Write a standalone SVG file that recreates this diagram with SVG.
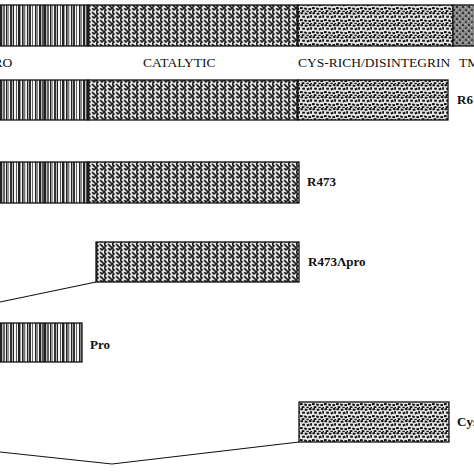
<svg xmlns="http://www.w3.org/2000/svg" width="474" height="474" viewBox="0 0 474 474">
<defs>
<pattern id="pro" patternUnits="userSpaceOnUse" x="0" y="0" width="44" height="10">
<rect width="44" height="10" fill="#f4f4f4"/>
<rect x="0" width="2" height="10" fill="#222"/>
<rect x="2" width="1" height="10" fill="#bbb"/>
<rect x="3" width="2" height="10" fill="#666"/>
<rect x="6" width="1" height="10" fill="#222"/>
<rect x="7" width="2" height="10" fill="#999"/>
<rect x="10" width="2" height="10" fill="#333"/>
<rect x="12" width="1" height="10" fill="#bbb"/>
<rect x="13" width="1" height="10" fill="#222"/>
<rect x="16" width="1" height="10" fill="#555"/>
<rect x="18" width="2" height="10" fill="#222"/>
<rect x="20" width="1" height="10" fill="#999"/>
<rect x="22" width="1" height="10" fill="#222"/>
<rect x="23" width="2" height="10" fill="#777"/>
<rect x="25" width="1" height="10" fill="#ccc"/>
<rect x="27" width="1" height="10" fill="#222"/>
<rect x="28" width="1" height="10" fill="#aaa"/>
<rect x="29" width="2" height="10" fill="#333"/>
<rect x="32" width="1" height="10" fill="#666"/>
<rect x="35" width="1" height="10" fill="#222"/>
<rect x="36" width="2" height="10" fill="#888"/>
<rect x="39" width="2" height="10" fill="#222"/>
<rect x="41" width="1" height="10" fill="#bbb"/>
<rect x="42" width="2" height="10" fill="#555"/>
</pattern>
<pattern id="cat" patternUnits="userSpaceOnUse" x="0" y="0" width="8" height="8">
<rect width="8" height="8" fill="#e6e6e6"/>
<path d="M0 4 L4 0 M4 4 L8 8 M4 0 L8 4 M0 4 L4 8" stroke="#151515" stroke-width="1.6" fill="none" stroke-dasharray="3.4 2.2"/>
<path d="M0 0 L2 2 M6 6 L8 8 M6 2 L8 0 M0 8 L2 6" stroke="#222" stroke-width="1.6" fill="none"/>
</pattern>
<pattern id="cys" patternUnits="userSpaceOnUse" x="0" y="0" width="12" height="12">
<rect width="12" height="12" fill="#e4e4e4"/>
<g fill="#111">
<rect x="0.4" y="0.2" width="2.7" height="2" transform="rotate(-20 1.7 1.2)"/>
<rect x="4.7" y="0.7" width="2.7" height="2"/>
<rect x="8.9" y="0" width="2.7" height="2" transform="rotate(20 10.2 0.9)"/>
<rect x="2.2" y="3.7" width="2.7" height="2"/>
<rect x="6.7" y="4.1" width="2.7" height="2" transform="rotate(-25 8 5.1)"/>
<rect x="10.2" y="3.2" width="1.8" height="2.5"/>
<rect x="0" y="7.1" width="2.7" height="2"/>
<rect x="4.2" y="7.7" width="2.7" height="2" transform="rotate(25 5.5 8.7)"/>
<rect x="8.4" y="8.1" width="2.7" height="2"/>
<rect x="1.7" y="10.2" width="2.7" height="1.8"/>
<rect x="6.4" y="10.8" width="2.4" height="1.2"/>
<rect x="10.4" y="11" width="1.6" height="1"/>
</g>
</pattern>
<pattern id="tm" patternUnits="userSpaceOnUse" x="0" y="0" width="6" height="6">
<rect width="6" height="6" fill="#888"/>
<rect x="0" y="0" width="2" height="2" fill="#333"/>
<rect x="3" y="3" width="2" height="2" fill="#444"/>
<rect x="3" y="0" width="1" height="1" fill="#ccc"/>
<rect x="0" y="3" width="1" height="1" fill="#bbb"/>
</pattern>
<style>
.seg{stroke:#111;stroke-width:1.3}
.pro{fill:url(#pro)}
.cat{fill:url(#cat)}
.cys{fill:url(#cys)}
.tm{fill:url(#tm)}
.hdr{font-family:"Liberation Serif","Times New Roman",serif;font-size:13.5px;fill:#111}
.lbl{font-family:"Liberation Serif","Times New Roman",serif;font-size:13px;font-weight:bold;fill:#111}
.conn{stroke:#111;stroke-width:1.2;fill:none}
</style>
</defs>
<rect width="474" height="474" fill="#fff"/>
<g id="full-length">
<rect class="seg pro" x="-1" y="5" width="89" height="41"/>
<rect class="seg cat" x="88" y="5" width="210" height="41"/>
<rect class="seg cys" x="298" y="5" width="155" height="41"/>
<rect class="seg tm" x="453" y="5" width="23" height="41"/>
</g>
<g id="domain-labels">
<text class="hdr" x="-14" y="67">PRO</text>
<text class="hdr" x="143" y="67">CATALYTIC</text>
<text class="hdr" x="298" y="67">CYS-RICH/DISINTEGRIN</text>
<text class="hdr" x="459" y="67">TM</text>
</g>
<g id="R6">
<rect class="seg pro" x="-1" y="80" width="89" height="40"/>
<rect class="seg cat" x="88" y="80" width="210" height="40"/>
<rect class="seg cys" x="298" y="80" width="150" height="40"/>
<text class="lbl" x="457" y="104">R6</text>
</g>
<g id="R473">
<rect class="seg pro" x="-1" y="162" width="89" height="41"/>
<rect class="seg cat" x="88" y="162" width="211" height="41"/>
<text class="lbl" x="307" y="186">R473</text>
</g>
<g id="R473dpro">
<rect class="seg cat" x="96" y="242" width="203" height="40"/>
<text class="lbl" x="308" y="266">R473Λpro</text>
</g>
<g id="Pro">
<rect class="seg pro" x="-1" y="323" width="83" height="39"/>
<text class="lbl" x="90" y="349">Pro</text>
</g>
<g id="Cys">
<rect class="seg cys" x="299" y="402" width="150" height="40"/>
<text class="lbl" x="457" y="426">Cys</text>
</g>
<g id="connectors">
<polyline class="conn" points="96,282 0,302"/>
<polyline class="conn" points="299,442 112,464 0,452"/>
</g>
</svg>
